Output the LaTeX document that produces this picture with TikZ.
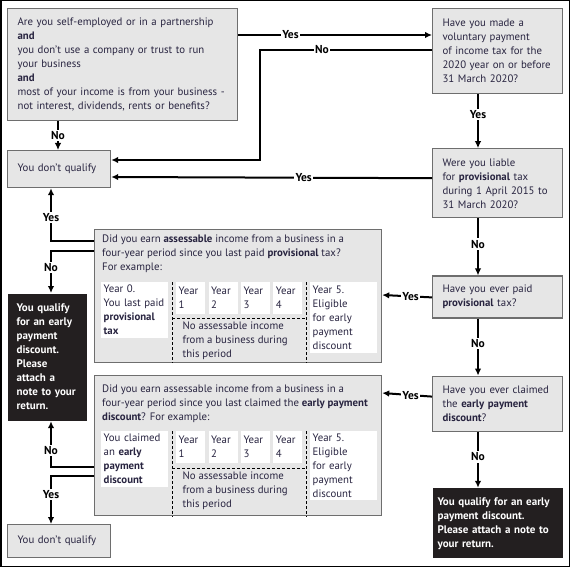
\documentclass[tikz,border=0pt]{standalone}
\usepackage{fontspec}
\setmainfont{PT Sans}
\usetikzlibrary{arrows.meta, positioning, calc}
\definecolor{ink}{RGB}{40,36,64}
\definecolor{boxfill}{RGB}{230,230,230}
\definecolor{boxline}{RGB}{110,110,110}
\definecolor{darkfill}{RGB}{35,31,32}
\tikzset{
  txt/.style={font=\fontsize{10.8pt}{14pt}\selectfont, text=ink},
  qbox/.style={
    txt, draw=boxline, line width=1.2pt, fill=boxfill,
    anchor=north west, align=left, inner xsep=10pt, inner ysep=0pt
  },
  ansbox/.style={
    qbox, draw=none, fill=darkfill, text=white,
    font=\fontsize{11pt}{14pt}\selectfont\bfseries, inner xsep=9pt
  },
  cell/.style={
    txt, fill=white, anchor=north west, align=left,
    inner xsep=2.5pt, inner ysep=0pt
  },
  yr/.style={cell, text width=24pt, minimum height=32pt},
  hdr/.style={txt, anchor=north west, align=left, inner sep=0pt},
  sig/.style={-{Latex[length=7pt,width=6.5pt]}, line width=2pt},
  lbl/.style={font=\fontsize{11.5pt}{12pt}\selectfont\bfseries, fill=white, inner sep=1.5pt},
  gap/.style={line width=0.8pt, dash pattern=on 3pt off 2pt}
}

\begin{document}
\begin{tikzpicture}[x=1pt, y=-1pt]

  \useasboundingbox (0,0) rectangle (570,567);
  \draw[line width=1.5pt] (0.75,0.75) rectangle (569.25,566.25);

  % left column
  \node[qbox, text width=210pt, minimum height=112pt] (q1) at (7,8)
        {Are you self-employed or in a partnership\\\textbf{and}\\you don't use a company or trust to run\\your business\\\textbf{and}\\most of your income is from your business -\\not interest, dividends, rents or benefits?};
  \node[qbox, text width=83pt, minimum height=37pt] (nq1) at (7,150) {You don't qualify};
  \node[ansbox, text width=61pt, minimum height=127pt] (blk1) at (7,293)
        {You qualify\\for an early\\payment\\discount.\\Please\\attach a\\note to your\\return.};
  \node[qbox, text width=83pt, minimum height=33pt] (nq2) at (7,524) {You don't qualify};

  % right column
  \node[qbox, text width=110pt, minimum height=85pt] (q2) at (432,8)
        {Have you made a\\voluntary payment\\of income tax for the\\2020 year on or before\\31 March 2020?};
  \node[qbox, text width=110pt, minimum height=69pt, below=54pt of q2] (q3)
        {Were you liable\\for \textbf{provisional} tax\\during 1 April 2015 to\\31 March 2020?};
  \node[qbox, text width=110pt, minimum height=42pt, below=57pt of q3] (q4)
        {Have you ever paid\\\textbf{provisional} tax?};
  \node[qbox, text width=110pt, minimum height=55pt, below=57pt of q4] (q6)
        {Have you ever claimed\\the \textbf{early payment}\\\textbf{discount}?};
  \node[ansbox, text width=120pt, inner xsep=5pt, minimum height=70pt, below=56pt of q6] (fin)
        {You qualify for an early\\payment discount.\\Please attach a note to\\your return.};

  % middle: provisional tax example
  \node[qbox, minimum width=287pt, minimum height=133pt] (q5) at (94,229) {};
  \node[hdr] (q5t) at ($(q5.north west)+(8,6)$)
        {Did you earn \textbf{assessable} income from a business in a\\four-year period since you last paid \textbf{provisional} tax?\\For example:};
  \node[cell, text width=62pt, minimum height=56pt] (p0) at ($(q5.north west)+(7,53)$)
        {Year 0.\\You last paid\\\textbf{provisional}\\\textbf{tax}};
  \node[yr] (p1) at ($(q5.north west)+(82,53)$) {Year\\1};
  \node[yr, right=3pt of p1.north east, anchor=north west] (p2) {Year\\2};
  \node[yr, right=3pt of p2.north east, anchor=north west] (p3) {Year\\3};
  \node[yr, right=3pt of p3.north east, anchor=north west] (p4) {Year\\4};
  \node[cell, text width=62pt, minimum height=71pt] (p5) at ($(q5.north west)+(216,53)$)
        {Year 5.\\Eligible\\for early\\payment\\discount};
  \coordinate (d1) at ($(p0.north east)+(4,0)$);
  \coordinate (d2) at ($(p5.north west)+(-4,0)$);
  \draw[gap] (d1) -- (d1 |- q5.south);
  \draw[gap] (d2) -- (d2 |- q5.south);
  \draw[gap] ($(d1 |- p1.south)+(0,4)$) -- ($(d2 |- p1.south)+(0,4)$);
  \node[hdr] (p6) at ($(d1 |- p1.south)+(10,7)$)
        {No assessable income\\from a business during\\this period};

  % middle: early payment discount example
  \node[qbox, minimum width=287pt, minimum height=140pt] (q7) at (94,375) {};
  \node[hdr] (q7t) at ($(q7.north west)+(8,10)$)
        {Did you earn assessable income from a business in a\\four-year period since you last claimed the \textbf{early payment}\\\textbf{discount}? For example:};
  \node[cell, text width=62pt, minimum height=56pt] (e0) at ($(q7.north west)+(7,56)$)
        {You claimed\\an \textbf{early}\\\textbf{payment}\\\textbf{discount}};
  \node[yr] (e1) at ($(q7.north west)+(82,56)$) {Year\\1};
  \node[yr, right=3pt of e1.north east, anchor=north west] (e2) {Year\\2};
  \node[yr, right=3pt of e2.north east, anchor=north west] (e3) {Year\\3};
  \node[yr, right=3pt of e3.north east, anchor=north west] (e4) {Year\\4};
  \node[cell, text width=62pt, minimum height=69pt] (e5) at ($(q7.north west)+(216,56)$)
        {Year 5.\\Eligible\\for early\\payment\\discount};
  \coordinate (f1) at ($(e0.north east)+(4,0)$);
  \coordinate (f2) at ($(e5.north west)+(-4,0)$);
  \draw[gap] (f1) -- (f1 |- q7.south);
  \draw[gap] (f2) -- (f2 |- q7.south);
  \draw[gap] ($(f1 |- e1.south)+(0,5)$) -- ($(f2 |- e1.south)+(0,5)$);
  \node[hdr] (e6) at ($(f1 |- e1.south)+(10,8)$)
        {No assessable income\\from a business during\\this period};

  % connectors
  \draw[sig] ($(q1.north east)+(0,27)$) -- node[lbl, pos=0.27]{Yes} ($(q2.north west)+(0,27)$);
  \draw[sig] ($(q2.north west)+(0,42)$) -- node[lbl, pos=0.64]{No} ++(-172,0)
        |- ($(nq1.north east)+(0,10)$);
  \draw[sig] ($(q1.south west)+(51,0)$) -- node[lbl]{No} ($(nq1.north west)+(51,0)$);
  \draw[sig] ($(q2.south west)+(46,0)$) -- node[lbl, pos=0.38]{Yes} ($(q3.north west)+(46,0)$);
  \draw[sig] ($(q3.north west)+(0,30)$) -- node[lbl, pos=0.4]{Yes} ($(nq1.north east)+(0,27)$);
  \draw[sig] ($(q3.south west)+(46,0)$) -- node[lbl, pos=0.45]{No} ($(q4.north west)+(46,0)$);
  \draw[sig] ($(q4.north west)+(0,22)$) -- node[lbl, pos=0.43]{Yes} ($(q5.north east)+(0,66)$);
  \draw[sig] ($(q4.south west)+(46,0)$) -- node[lbl, pos=0.44]{No} ($(q6.north west)+(46,0)$);
  \draw[sig] ($(q6.north west)+(0,21)$) -- node[lbl, pos=0.43]{Yes} ($(q7.north east)+(0,18)$);
  \draw[sig] ($(q6.south west)+(46,0)$) -- node[lbl, pos=0.45]{No} ($(fin.north west)+(46,0)$);
  \draw[sig] ($(q5.north west)+(0,12)$) -| node[lbl, pos=0.72]{Yes} ($(nq1.south west)+(44,0)$);
  \draw[sig] ($(q5.north west)+(0,22)$) -| node[lbl, pos=0.7]{No} ($(blk1.north west)+(44,0)$);
  \draw[sig] ($(q7.north west)+(0,92)$) -| node[lbl, pos=0.68]{No} ($(blk1.south west)+(44,0)$);
  \draw[sig] ($(q7.north west)+(0,101)$) -| node[lbl, pos=0.69]{Yes} ($(nq2.north west)+(44,0)$);

\end{tikzpicture}
\end{document}
